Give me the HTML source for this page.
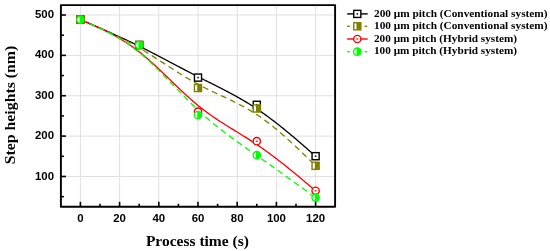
<!DOCTYPE html>
<html><head><meta charset="utf-8"><style>
html,body{margin:0;padding:0;background:#fff;width:550px;height:251px;overflow:hidden}
svg{display:block}
.tl{font-family:"Liberation Sans",Arial,sans-serif;font-weight:bold;font-size:11.4px;fill:#000}
.at{font-family:"Liberation Serif","Times New Roman",serif;font-weight:bold;font-size:14.8px;fill:#000}
.lg{font-family:"Liberation Serif","Times New Roman",serif;font-weight:bold;font-size:11.3px;fill:#000}
</style></head><body>
<svg width="550" height="251" viewBox="0 0 550 251"><rect width="550" height="251" fill="#fff"/><line x1="80.40" y1="5.1" x2="80.40" y2="206.8" stroke="#e0e0e0" stroke-width="1"/><line x1="119.60" y1="5.1" x2="119.60" y2="206.8" stroke="#e0e0e0" stroke-width="1"/><line x1="158.80" y1="5.1" x2="158.80" y2="206.8" stroke="#e0e0e0" stroke-width="1"/><line x1="198.00" y1="5.1" x2="198.00" y2="206.8" stroke="#e0e0e0" stroke-width="1"/><line x1="237.20" y1="5.1" x2="237.20" y2="206.8" stroke="#e0e0e0" stroke-width="1"/><line x1="276.40" y1="5.1" x2="276.40" y2="206.8" stroke="#e0e0e0" stroke-width="1"/><line x1="315.60" y1="5.1" x2="315.60" y2="206.8" stroke="#e0e0e0" stroke-width="1"/><line x1="60.9" y1="176.48" x2="335.1" y2="176.48" stroke="#e0e0e0" stroke-width="1"/><line x1="60.9" y1="136.11" x2="335.1" y2="136.11" stroke="#e0e0e0" stroke-width="1"/><line x1="60.9" y1="95.74" x2="335.1" y2="95.74" stroke="#e0e0e0" stroke-width="1"/><line x1="60.9" y1="55.37" x2="335.1" y2="55.37" stroke="#e0e0e0" stroke-width="1"/><line x1="60.9" y1="15.00" x2="335.1" y2="15.00" stroke="#e0e0e0" stroke-width="1"/><path d="M80.40,19.60 L80.40,19.60 L80.40,19.60 L80.40,19.60 L80.41,19.60 L80.41,19.60 L80.42,19.61 L80.43,19.61 L80.44,19.62 L80.46,19.62 L80.48,19.63 L80.51,19.65 L80.54,19.66 L80.57,19.68 L80.62,19.69 L80.67,19.72 L80.72,19.74 L80.79,19.77 L80.86,19.80 L80.94,19.83 L81.03,19.87 L81.13,19.92 L81.24,19.96 L81.36,20.02 L81.49,20.07 L81.64,20.13 L81.79,20.20 L81.96,20.27 L82.14,20.35 L82.33,20.43 L82.54,20.52 L82.76,20.62 L82.99,20.72 L83.25,20.83 L83.51,20.94 L83.80,21.07 L84.09,21.20 L84.41,21.33 L84.75,21.48 L85.10,21.63 L85.47,21.79 L85.86,21.96 L86.27,22.13 L86.70,22.32 L87.15,22.51 L87.62,22.72 L88.11,22.93 L88.62,23.15 L89.16,23.38 L89.72,23.62 L90.30,23.88 L90.90,24.14 L91.53,24.41 L92.18,24.69 L92.86,24.98 L93.55,25.28 L94.27,25.59 L95.01,25.91 L95.76,26.24 L96.54,26.58 L97.34,26.93 L98.15,27.28 L98.99,27.65 L99.84,28.02 L100.71,28.40 L101.59,28.79 L102.50,29.19 L103.42,29.59 L104.35,30.00 L105.30,30.42 L106.26,30.85 L107.24,31.29 L108.23,31.73 L109.24,32.18 L110.25,32.63 L111.28,33.10 L112.32,33.56 L113.38,34.04 L114.44,34.52 L115.51,35.01 L116.60,35.50 L117.69,36.00 L118.79,36.51 L119.90,37.02 L121.02,37.53 L122.14,38.05 L123.28,38.58 L124.42,39.11 L125.56,39.65 L126.71,40.19 L127.87,40.73 L129.03,41.28 L130.19,41.83 L131.36,42.39 L132.53,42.95 L133.70,43.52 L134.88,44.09 L136.06,44.66 L137.23,45.23 L138.41,45.81 L139.59,46.39 L140.77,46.98 L141.95,47.57 L143.13,48.16 L144.31,48.75 L145.49,49.34 L146.67,49.94 L147.85,50.54 L149.03,51.14 L150.21,51.74 L151.39,52.35 L152.57,52.96 L153.75,53.57 L154.93,54.18 L156.11,54.79 L157.29,55.40 L158.47,56.02 L159.65,56.63 L160.83,57.25 L162.01,57.87 L163.19,58.49 L164.37,59.11 L165.55,59.73 L166.73,60.35 L167.91,60.97 L169.09,61.60 L170.27,62.22 L171.45,62.84 L172.63,63.47 L173.81,64.09 L174.99,64.71 L176.17,65.34 L177.35,65.96 L178.53,66.58 L179.71,67.20 L180.89,67.82 L182.07,68.44 L183.25,69.06 L184.43,69.68 L185.61,70.30 L186.79,70.92 L187.97,71.53 L189.15,72.15 L190.33,72.76 L191.51,73.37 L192.69,73.98 L193.87,74.59 L195.05,75.19 L196.23,75.80 L197.41,76.40 L198.59,77.00 L199.77,77.60 L200.95,78.19 L202.13,78.79 L203.31,79.38 L204.49,79.97 L205.67,80.57 L206.85,81.16 L208.03,81.75 L209.21,82.34 L210.39,82.93 L211.57,83.52 L212.75,84.11 L213.93,84.70 L215.11,85.29 L216.29,85.89 L217.47,86.48 L218.65,87.08 L219.83,87.68 L221.01,88.28 L222.19,88.89 L223.37,89.49 L224.55,90.10 L225.73,90.72 L226.91,91.33 L228.09,91.95 L229.27,92.58 L230.45,93.21 L231.63,93.84 L232.81,94.48 L233.99,95.12 L235.17,95.77 L236.35,96.42 L237.53,97.08 L238.71,97.74 L239.89,98.41 L241.07,99.09 L242.25,99.77 L243.43,100.46 L244.61,101.16 L245.79,101.86 L246.97,102.58 L248.15,103.30 L249.33,104.02 L250.51,104.76 L251.69,105.50 L252.87,106.26 L254.05,107.02 L255.23,107.79 L256.41,108.57 L257.59,109.36 L258.77,110.16 L259.94,110.97 L261.12,111.79 L262.30,112.61 L263.47,113.44 L264.64,114.28 L265.81,115.12 L266.97,115.97 L268.13,116.82 L269.29,117.68 L270.44,118.54 L271.58,119.40 L272.72,120.26 L273.86,121.13 L274.98,121.99 L276.10,122.86 L277.21,123.73 L278.31,124.59 L279.40,125.45 L280.49,126.31 L281.56,127.17 L282.62,128.03 L283.68,128.88 L284.72,129.72 L285.75,130.56 L286.76,131.40 L287.77,132.23 L288.76,133.05 L289.74,133.86 L290.70,134.66 L291.65,135.46 L292.58,136.25 L293.50,137.02 L294.41,137.79 L295.29,138.54 L296.16,139.28 L297.01,140.01 L297.85,140.73 L298.66,141.43 L299.46,142.11 L300.24,142.79 L300.99,143.44 L301.73,144.08 L302.45,144.71 L303.14,145.31 L303.82,145.90 L304.47,146.47 L305.10,147.02 L305.70,147.55 L306.28,148.06 L306.84,148.54 L307.38,149.01 L307.89,149.46 L308.38,149.89 L308.85,150.30 L309.30,150.70 L309.73,151.07 L310.14,151.43 L310.53,151.77 L310.90,152.09 L311.25,152.40 L311.59,152.69 L311.91,152.97 L312.20,153.23 L312.49,153.48 L312.75,153.71 L313.01,153.93 L313.24,154.14 L313.46,154.33 L313.67,154.51 L313.86,154.68 L314.04,154.84 L314.21,154.98 L314.36,155.12 L314.51,155.24 L314.64,155.36 L314.76,155.46 L314.87,155.56 L314.97,155.65 L315.06,155.73 L315.14,155.80 L315.21,155.86 L315.28,155.92 L315.33,155.97 L315.38,156.01 L315.43,156.05 L315.46,156.08 L315.49,156.11 L315.52,156.13 L315.54,156.15 L315.56,156.16 L315.57,156.18 L315.58,156.19 L315.59,156.19 L315.59,156.20 L315.60,156.20 L315.60,156.20 L315.60,156.20 L315.60,156.20" fill="none" stroke="#000000" stroke-width="1.3"/><path d="M80.40,19.60 L80.40,19.60 L80.40,19.60 L80.40,19.60 L80.41,19.60 L80.41,19.60 L80.42,19.61 L80.43,19.61 L80.44,19.62 L80.46,19.62 L80.48,19.63 L80.51,19.65 L80.54,19.66 L80.57,19.68 L80.62,19.69 L80.67,19.72 L80.72,19.74 L80.79,19.77 L80.86,19.80 L80.94,19.83 L81.03,19.87 L81.13,19.92 L81.24,19.96 L81.36,20.02 L81.49,20.07 L81.64,20.13 L81.79,20.20 L81.96,20.27 L82.14,20.35 L82.33,20.43 L82.54,20.52 L82.76,20.62 L82.99,20.72 L83.25,20.83 L83.51,20.94 L83.80,21.07 L84.09,21.20 L84.41,21.33 L84.75,21.48 L85.10,21.63 L85.47,21.79 L85.86,21.96 L86.27,22.13 L86.70,22.32 L87.15,22.51 L87.62,22.72 L88.11,22.93 L88.62,23.15 L89.16,23.38 L89.72,23.62 L90.30,23.88 L90.90,24.14 L91.53,24.41 L92.18,24.69 L92.86,24.98 L93.55,25.29 L94.27,25.60 L95.01,25.92 L95.76,26.25 L96.54,26.59 L97.34,26.94 L98.15,27.30 L98.99,27.67 L99.84,28.05 L100.71,28.44 L101.59,28.84 L102.50,29.25 L103.42,29.66 L104.35,30.09 L105.30,30.52 L106.26,30.97 L107.24,31.42 L108.23,31.88 L109.24,32.35 L110.25,32.83 L111.28,33.32 L112.32,33.82 L113.38,34.32 L114.44,34.83 L115.51,35.36 L116.60,35.89 L117.69,36.43 L118.79,36.97 L119.90,37.53 L121.02,38.09 L122.14,38.66 L123.28,39.24 L124.42,39.83 L125.56,40.43 L126.71,41.03 L127.87,41.64 L129.03,42.26 L130.19,42.88 L131.36,43.52 L132.53,44.16 L133.70,44.81 L134.88,45.47 L136.06,46.13 L137.23,46.80 L138.41,47.48 L139.59,48.16 L140.77,48.85 L141.95,49.55 L143.13,50.26 L144.31,50.97 L145.49,51.69 L146.67,52.41 L147.85,53.14 L149.03,53.87 L150.21,54.60 L151.39,55.34 L152.57,56.09 L153.75,56.84 L154.93,57.59 L156.11,58.34 L157.29,59.09 L158.47,59.85 L159.65,60.61 L160.83,61.37 L162.01,62.14 L163.19,62.90 L164.37,63.66 L165.55,64.43 L166.73,65.19 L167.91,65.95 L169.09,66.72 L170.27,67.48 L171.45,68.24 L172.63,68.99 L173.81,69.75 L174.99,70.50 L176.17,71.25 L177.35,72.00 L178.53,72.75 L179.71,73.49 L180.89,74.22 L182.07,74.96 L183.25,75.68 L184.43,76.41 L185.61,77.12 L186.79,77.83 L187.97,78.54 L189.15,79.24 L190.33,79.93 L191.51,80.62 L192.69,81.30 L193.87,81.97 L195.05,82.63 L196.23,83.28 L197.41,83.93 L198.59,84.57 L199.77,85.20 L200.95,85.82 L202.13,86.43 L203.31,87.03 L204.49,87.63 L205.67,88.22 L206.85,88.81 L208.03,89.39 L209.21,89.96 L210.39,90.53 L211.57,91.10 L212.75,91.66 L213.93,92.22 L215.11,92.78 L216.29,93.33 L217.47,93.89 L218.65,94.44 L219.83,94.99 L221.01,95.54 L222.19,96.10 L223.37,96.65 L224.55,97.20 L225.73,97.76 L226.91,98.31 L228.09,98.88 L229.27,99.44 L230.45,100.01 L231.63,100.58 L232.81,101.15 L233.99,101.73 L235.17,102.32 L236.35,102.91 L237.53,103.51 L238.71,104.12 L239.89,104.73 L241.07,105.35 L242.25,105.98 L243.43,106.62 L244.61,107.27 L245.79,107.93 L246.97,108.60 L248.15,109.28 L249.33,109.97 L250.51,110.67 L251.69,111.38 L252.87,112.11 L254.05,112.85 L255.23,113.61 L256.41,114.37 L257.59,115.16 L258.77,115.95 L259.94,116.77 L261.12,117.59 L262.30,118.42 L263.47,119.27 L264.64,120.13 L265.81,121.00 L266.97,121.87 L268.13,122.76 L269.29,123.65 L270.44,124.55 L271.58,125.45 L272.72,126.36 L273.86,127.28 L274.98,128.19 L276.10,129.11 L277.21,130.04 L278.31,130.96 L279.40,131.89 L280.49,132.81 L281.56,133.74 L282.62,134.66 L283.68,135.58 L284.72,136.49 L285.75,137.41 L286.76,138.32 L287.77,139.22 L288.76,140.11 L289.74,141.00 L290.70,141.88 L291.65,142.76 L292.58,143.62 L293.50,144.48 L294.41,145.32 L295.29,146.15 L296.16,146.97 L297.01,147.78 L297.85,148.57 L298.66,149.35 L299.46,150.11 L300.24,150.85 L300.99,151.58 L301.73,152.30 L302.45,152.99 L303.14,153.66 L303.82,154.32 L304.47,154.95 L305.10,155.56 L305.70,156.15 L306.28,156.72 L306.84,157.27 L307.38,157.79 L307.89,158.29 L308.38,158.77 L308.85,159.23 L309.30,159.66 L309.73,160.08 L310.14,160.48 L310.53,160.86 L310.90,161.22 L311.25,161.57 L311.59,161.89 L311.91,162.20 L312.20,162.49 L312.49,162.77 L312.75,163.03 L313.01,163.27 L313.24,163.50 L313.46,163.72 L313.67,163.92 L313.86,164.11 L314.04,164.28 L314.21,164.44 L314.36,164.59 L314.51,164.73 L314.64,164.86 L314.76,164.98 L314.87,165.09 L314.97,165.18 L315.06,165.27 L315.14,165.35 L315.21,165.42 L315.28,165.48 L315.33,165.54 L315.38,165.59 L315.43,165.63 L315.46,165.67 L315.49,165.70 L315.52,165.72 L315.54,165.74 L315.56,165.76 L315.57,165.77 L315.58,165.78 L315.59,165.79 L315.59,165.80 L315.60,165.80 L315.60,165.80 L315.60,165.80 L315.60,165.80" fill="none" stroke="#808000" stroke-width="1.3" stroke-dasharray="6,4"/><path d="M80.40,19.60 L80.40,19.60 L80.40,19.60 L80.40,19.60 L80.41,19.60 L80.41,19.60 L80.42,19.61 L80.43,19.61 L80.44,19.62 L80.46,19.62 L80.48,19.63 L80.51,19.65 L80.54,19.66 L80.57,19.68 L80.62,19.69 L80.67,19.72 L80.72,19.74 L80.79,19.77 L80.86,19.80 L80.94,19.83 L81.03,19.87 L81.13,19.92 L81.24,19.96 L81.36,20.02 L81.49,20.07 L81.64,20.13 L81.79,20.20 L81.96,20.27 L82.14,20.35 L82.33,20.43 L82.54,20.52 L82.76,20.62 L82.99,20.72 L83.25,20.83 L83.51,20.94 L83.80,21.07 L84.09,21.20 L84.41,21.33 L84.75,21.48 L85.10,21.63 L85.47,21.79 L85.86,21.96 L86.27,22.13 L86.70,22.32 L87.15,22.51 L87.62,22.72 L88.11,22.93 L88.62,23.15 L89.16,23.38 L89.72,23.62 L90.30,23.88 L90.90,24.14 L91.53,24.41 L92.18,24.69 L92.86,24.99 L93.55,25.29 L94.27,25.60 L95.01,25.93 L95.76,26.27 L96.54,26.62 L97.34,26.98 L98.15,27.35 L98.99,27.73 L99.84,28.12 L100.71,28.53 L101.59,28.95 L102.50,29.38 L103.42,29.82 L104.35,30.28 L105.30,30.75 L106.26,31.23 L107.24,31.72 L108.23,32.23 L109.24,32.75 L110.25,33.28 L111.28,33.83 L112.32,34.38 L113.38,34.96 L114.44,35.54 L115.51,36.14 L116.60,36.76 L117.69,37.39 L118.79,38.03 L119.90,38.69 L121.02,39.36 L122.14,40.05 L123.28,40.75 L124.42,41.46 L125.56,42.19 L126.71,42.94 L127.87,43.70 L129.03,44.48 L130.19,45.27 L131.36,46.08 L132.53,46.90 L133.70,47.74 L134.88,48.59 L136.06,49.46 L137.23,50.35 L138.41,51.25 L139.59,52.18 L140.77,53.11 L141.95,54.06 L143.13,55.03 L144.31,56.01 L145.49,57.01 L146.67,58.02 L147.85,59.04 L149.03,60.07 L150.21,61.12 L151.39,62.17 L152.57,63.24 L153.75,64.32 L154.93,65.40 L156.11,66.49 L157.29,67.59 L158.47,68.70 L159.65,69.81 L160.83,70.93 L162.01,72.05 L163.19,73.18 L164.37,74.31 L165.55,75.45 L166.73,76.58 L167.91,77.72 L169.09,78.86 L170.27,80.00 L171.45,81.14 L172.63,82.28 L173.81,83.42 L174.99,84.56 L176.17,85.69 L177.35,86.83 L178.53,87.95 L179.71,89.07 L180.89,90.19 L182.07,91.30 L183.25,92.41 L184.43,93.51 L185.61,94.60 L186.79,95.68 L187.97,96.76 L189.15,97.82 L190.33,98.87 L191.51,99.92 L192.69,100.95 L193.87,101.97 L195.05,102.98 L196.23,103.97 L197.41,104.95 L198.59,105.91 L199.77,106.86 L200.95,107.80 L202.13,108.72 L203.31,109.63 L204.49,110.53 L205.67,111.41 L206.85,112.29 L208.03,113.15 L209.21,114.00 L210.39,114.84 L211.57,115.66 L212.75,116.48 L213.93,117.29 L215.11,118.10 L216.29,118.89 L217.47,119.68 L218.65,120.45 L219.83,121.23 L221.01,121.99 L222.19,122.75 L223.37,123.50 L224.55,124.25 L225.73,125.00 L226.91,125.74 L228.09,126.48 L229.27,127.21 L230.45,127.94 L231.63,128.67 L232.81,129.39 L233.99,130.12 L235.17,130.85 L236.35,131.57 L237.53,132.29 L238.71,133.02 L239.89,133.74 L241.07,134.47 L242.25,135.20 L243.43,135.93 L244.61,136.67 L245.79,137.40 L246.97,138.15 L248.15,138.89 L249.33,139.64 L250.51,140.40 L251.69,141.16 L252.87,141.93 L254.05,142.70 L255.23,143.48 L256.41,144.27 L257.59,145.06 L258.77,145.87 L259.94,146.68 L261.12,147.50 L262.30,148.32 L263.47,149.15 L264.64,149.98 L265.81,150.82 L266.97,151.66 L268.13,152.51 L269.29,153.35 L270.44,154.20 L271.58,155.05 L272.72,155.91 L273.86,156.76 L274.98,157.61 L276.10,158.46 L277.21,159.31 L278.31,160.16 L279.40,161.01 L280.49,161.85 L281.56,162.69 L282.62,163.52 L283.68,164.35 L284.72,165.18 L285.75,166.00 L286.76,166.81 L287.77,167.62 L288.76,168.41 L289.74,169.20 L290.70,169.99 L291.65,170.76 L292.58,171.52 L293.50,172.27 L294.41,173.02 L295.29,173.75 L296.16,174.46 L297.01,175.17 L297.85,175.86 L298.66,176.54 L299.46,177.20 L300.24,177.85 L300.99,178.49 L301.73,179.11 L302.45,179.71 L303.14,180.29 L303.82,180.86 L304.47,181.41 L305.10,181.94 L305.70,182.45 L306.28,182.94 L306.84,183.41 L307.38,183.86 L307.89,184.30 L308.38,184.71 L308.85,185.11 L309.30,185.49 L309.73,185.85 L310.14,186.20 L310.53,186.52 L310.90,186.84 L311.25,187.13 L311.59,187.42 L311.91,187.68 L312.20,187.94 L312.49,188.17 L312.75,188.40 L313.01,188.61 L313.24,188.81 L313.46,189.00 L313.67,189.17 L313.86,189.33 L314.04,189.49 L314.21,189.63 L314.36,189.76 L314.51,189.88 L314.64,189.99 L314.76,190.09 L314.87,190.18 L314.97,190.27 L315.06,190.34 L315.14,190.41 L315.21,190.47 L315.28,190.53 L315.33,190.57 L315.38,190.62 L315.43,190.65 L315.46,190.68 L315.49,190.71 L315.52,190.73 L315.54,190.75 L315.56,190.77 L315.57,190.78 L315.58,190.79 L315.59,190.79 L315.59,190.80 L315.60,190.80 L315.60,190.80 L315.60,190.80 L315.60,190.80" fill="none" stroke="#ff0000" stroke-width="1.3"/><path d="M80.40,19.60 L80.40,19.60 L80.40,19.60 L80.40,19.60 L80.41,19.60 L80.41,19.60 L80.42,19.61 L80.43,19.61 L80.44,19.62 L80.46,19.62 L80.48,19.63 L80.51,19.65 L80.54,19.66 L80.57,19.68 L80.62,19.69 L80.67,19.72 L80.72,19.74 L80.79,19.77 L80.86,19.80 L80.94,19.83 L81.03,19.87 L81.13,19.92 L81.24,19.96 L81.36,20.02 L81.49,20.07 L81.64,20.13 L81.79,20.20 L81.96,20.27 L82.14,20.35 L82.33,20.43 L82.54,20.52 L82.76,20.62 L82.99,20.72 L83.25,20.83 L83.51,20.94 L83.80,21.07 L84.09,21.20 L84.41,21.33 L84.75,21.48 L85.10,21.63 L85.47,21.79 L85.86,21.96 L86.27,22.13 L86.70,22.32 L87.15,22.51 L87.62,22.72 L88.11,22.93 L88.62,23.15 L89.16,23.38 L89.72,23.62 L90.30,23.88 L90.90,24.14 L91.53,24.41 L92.18,24.69 L92.86,24.99 L93.55,25.29 L94.27,25.61 L95.01,25.93 L95.76,26.27 L96.54,26.62 L97.34,26.98 L98.15,27.35 L98.99,27.74 L99.84,28.13 L100.71,28.54 L101.59,28.97 L102.50,29.40 L103.42,29.85 L104.35,30.31 L105.30,30.78 L106.26,31.26 L107.24,31.76 L108.23,32.28 L109.24,32.80 L110.25,33.34 L111.28,33.90 L112.32,34.47 L113.38,35.05 L114.44,35.65 L115.51,36.26 L116.60,36.89 L117.69,37.53 L118.79,38.18 L119.90,38.85 L121.02,39.54 L122.14,40.24 L123.28,40.96 L124.42,41.70 L125.56,42.45 L126.71,43.21 L127.87,44.00 L129.03,44.80 L130.19,45.61 L131.36,46.44 L132.53,47.29 L133.70,48.16 L134.88,49.04 L136.06,49.94 L137.23,50.86 L138.41,51.80 L139.59,52.75 L140.77,53.73 L141.95,54.71 L143.13,55.72 L144.31,56.74 L145.49,57.78 L146.67,58.83 L147.85,59.90 L149.03,60.98 L150.21,62.07 L151.39,63.17 L152.57,64.29 L153.75,65.42 L154.93,66.55 L156.11,67.70 L157.29,68.86 L158.47,70.03 L159.65,71.20 L160.83,72.38 L162.01,73.57 L163.19,74.77 L164.37,75.97 L165.55,77.17 L166.73,78.38 L167.91,79.60 L169.09,80.81 L170.27,82.03 L171.45,83.26 L172.63,84.48 L173.81,85.71 L174.99,86.93 L176.17,88.15 L177.35,89.38 L178.53,90.60 L179.71,91.82 L180.89,93.04 L182.07,94.25 L183.25,95.46 L184.43,96.67 L185.61,97.87 L186.79,99.06 L187.97,100.25 L189.15,101.44 L190.33,102.61 L191.51,103.78 L192.69,104.93 L193.87,106.08 L195.05,107.22 L196.23,108.35 L197.41,109.46 L198.59,110.57 L199.77,111.66 L200.95,112.74 L202.13,113.81 L203.31,114.87 L204.49,115.92 L205.67,116.95 L206.85,117.98 L208.03,119.00 L209.21,120.01 L210.39,121.00 L211.57,121.99 L212.75,122.97 L213.93,123.94 L215.11,124.90 L216.29,125.85 L217.47,126.80 L218.65,127.74 L219.83,128.67 L221.01,129.59 L222.19,130.51 L223.37,131.42 L224.55,132.32 L225.73,133.22 L226.91,134.11 L228.09,134.99 L229.27,135.87 L230.45,136.75 L231.63,137.62 L232.81,138.48 L233.99,139.34 L235.17,140.20 L236.35,141.05 L237.53,141.90 L238.71,142.75 L239.89,143.59 L241.07,144.43 L242.25,145.27 L243.43,146.11 L244.61,146.94 L245.79,147.77 L246.97,148.60 L248.15,149.43 L249.33,150.26 L250.51,151.09 L251.69,151.91 L252.87,152.74 L254.05,153.57 L255.23,154.40 L256.41,155.22 L257.59,156.05 L258.77,156.88 L259.94,157.71 L261.12,158.54 L262.30,159.37 L263.47,160.20 L264.64,161.03 L265.81,161.85 L266.97,162.68 L268.13,163.50 L269.29,164.32 L270.44,165.14 L271.58,165.95 L272.72,166.76 L273.86,167.57 L274.98,168.37 L276.10,169.17 L277.21,169.96 L278.31,170.75 L279.40,171.53 L280.49,172.30 L281.56,173.07 L282.62,173.83 L283.68,174.58 L284.72,175.33 L285.75,176.07 L286.76,176.80 L287.77,177.52 L288.76,178.23 L289.74,178.93 L290.70,179.63 L291.65,180.31 L292.58,180.98 L293.50,181.64 L294.41,182.29 L295.29,182.93 L296.16,183.56 L297.01,184.17 L297.85,184.77 L298.66,185.36 L299.46,185.94 L300.24,186.50 L300.99,187.04 L301.73,187.58 L302.45,188.09 L303.14,188.60 L303.82,189.08 L304.47,189.55 L305.10,190.01 L305.70,190.45 L306.28,190.87 L306.84,191.27 L307.38,191.66 L307.89,192.03 L308.38,192.38 L308.85,192.72 L309.30,193.05 L309.73,193.36 L310.14,193.66 L310.53,193.94 L310.90,194.20 L311.25,194.46 L311.59,194.70 L311.91,194.93 L312.20,195.15 L312.49,195.35 L312.75,195.54 L313.01,195.72 L313.24,195.89 L313.46,196.05 L313.67,196.20 L313.86,196.34 L314.04,196.47 L314.21,196.59 L314.36,196.71 L314.51,196.81 L314.64,196.90 L314.76,196.99 L314.87,197.07 L314.97,197.14 L315.06,197.21 L315.14,197.27 L315.21,197.32 L315.28,197.37 L315.33,197.41 L315.38,197.44 L315.43,197.47 L315.46,197.50 L315.49,197.52 L315.52,197.54 L315.54,197.56 L315.56,197.57 L315.57,197.58 L315.58,197.59 L315.59,197.59 L315.59,197.60 L315.60,197.60 L315.60,197.60 L315.60,197.60 L315.60,197.60" fill="none" stroke="#00ff00" stroke-width="1.3" stroke-dasharray="6,4"/><rect x="76.85" y="16.05" width="7.10" height="7.10" fill="#fff" stroke="#000000" stroke-width="1.4"/><rect x="79.65" y="18.85" width="1.5" height="1.5" fill="#000000"/><rect x="135.65" y="41.45" width="7.10" height="7.10" fill="#fff" stroke="#000000" stroke-width="1.4"/><rect x="138.45" y="44.25" width="1.5" height="1.5" fill="#000000"/><rect x="194.45" y="74.05" width="7.10" height="7.10" fill="#fff" stroke="#000000" stroke-width="1.4"/><rect x="197.25" y="76.85" width="1.5" height="1.5" fill="#000000"/><rect x="253.25" y="101.25" width="7.10" height="7.10" fill="#fff" stroke="#000000" stroke-width="1.4"/><rect x="256.05" y="104.05" width="1.5" height="1.5" fill="#000000"/><rect x="312.05" y="152.65" width="7.10" height="7.10" fill="#fff" stroke="#000000" stroke-width="1.4"/><rect x="314.85" y="155.45" width="1.5" height="1.5" fill="#000000"/><rect x="76.85" y="16.05" width="7.10" height="7.10" fill="#fff" stroke="#808000" stroke-width="1.4"/><rect x="79.60" y="16.05" width="4.35" height="7.10" fill="#808000"/><rect x="135.65" y="41.45" width="7.10" height="7.10" fill="#fff" stroke="#808000" stroke-width="1.4"/><rect x="138.40" y="41.45" width="4.35" height="7.10" fill="#808000"/><rect x="194.45" y="84.45" width="7.10" height="7.10" fill="#fff" stroke="#808000" stroke-width="1.4"/><rect x="197.20" y="84.45" width="4.35" height="7.10" fill="#808000"/><rect x="253.25" y="104.95" width="7.10" height="7.10" fill="#fff" stroke="#808000" stroke-width="1.4"/><rect x="256.00" y="104.95" width="4.35" height="7.10" fill="#808000"/><rect x="312.05" y="162.25" width="7.10" height="7.10" fill="#fff" stroke="#808000" stroke-width="1.4"/><rect x="314.80" y="162.25" width="4.35" height="7.10" fill="#808000"/><circle cx="80.40" cy="19.60" r="3.65" fill="#fff" stroke="#ff0000" stroke-width="1.4"/><rect x="79.40" y="19.00" width="2" height="1.2" fill="#ff0000"/><circle cx="139.20" cy="45.00" r="3.65" fill="#fff" stroke="#ff0000" stroke-width="1.4"/><rect x="138.20" y="44.40" width="2" height="1.2" fill="#ff0000"/><circle cx="198.00" cy="111.60" r="3.65" fill="#fff" stroke="#ff0000" stroke-width="1.4"/><rect x="197.00" y="111.00" width="2" height="1.2" fill="#ff0000"/><circle cx="256.80" cy="141.20" r="3.65" fill="#fff" stroke="#ff0000" stroke-width="1.4"/><rect x="255.80" y="140.60" width="2" height="1.2" fill="#ff0000"/><circle cx="315.60" cy="190.80" r="3.65" fill="#fff" stroke="#ff0000" stroke-width="1.4"/><rect x="314.60" y="190.20" width="2" height="1.2" fill="#ff0000"/><circle cx="80.40" cy="19.60" r="3.65" fill="#fff" stroke="#00ff00" stroke-width="1.4"/><path d="M79.60,16.04 A3.65,3.65 0 1 1 79.60,23.16 Z" fill="#00ff00"/><circle cx="139.20" cy="45.00" r="3.65" fill="#fff" stroke="#00ff00" stroke-width="1.4"/><path d="M138.40,41.44 A3.65,3.65 0 1 1 138.40,48.56 Z" fill="#00ff00"/><circle cx="198.00" cy="115.00" r="3.65" fill="#fff" stroke="#00ff00" stroke-width="1.4"/><path d="M197.20,111.44 A3.65,3.65 0 1 1 197.20,118.56 Z" fill="#00ff00"/><circle cx="256.80" cy="155.10" r="3.65" fill="#fff" stroke="#00ff00" stroke-width="1.4"/><path d="M256.00,151.54 A3.65,3.65 0 1 1 256.00,158.66 Z" fill="#00ff00"/><circle cx="315.60" cy="197.60" r="3.65" fill="#fff" stroke="#00ff00" stroke-width="1.4"/><path d="M314.80,194.04 A3.65,3.65 0 1 1 314.80,201.16 Z" fill="#00ff00"/><rect x="60.9" y="5.1" width="274.20" height="201.70" fill="none" stroke="#000" stroke-width="1.9" stroke-linejoin="round"/><line x1="80.40" y1="206.8" x2="80.40" y2="201.8" stroke="#000" stroke-width="1.6"/><line x1="119.60" y1="206.8" x2="119.60" y2="201.8" stroke="#000" stroke-width="1.6"/><line x1="158.80" y1="206.8" x2="158.80" y2="201.8" stroke="#000" stroke-width="1.6"/><line x1="198.00" y1="206.8" x2="198.00" y2="201.8" stroke="#000" stroke-width="1.6"/><line x1="237.20" y1="206.8" x2="237.20" y2="201.8" stroke="#000" stroke-width="1.6"/><line x1="276.40" y1="206.8" x2="276.40" y2="201.8" stroke="#000" stroke-width="1.6"/><line x1="315.60" y1="206.8" x2="315.60" y2="201.8" stroke="#000" stroke-width="1.6"/><line x1="100.00" y1="206.8" x2="100.00" y2="203.8" stroke="#000" stroke-width="1.6"/><line x1="139.20" y1="206.8" x2="139.20" y2="203.8" stroke="#000" stroke-width="1.6"/><line x1="178.40" y1="206.8" x2="178.40" y2="203.8" stroke="#000" stroke-width="1.6"/><line x1="217.60" y1="206.8" x2="217.60" y2="203.8" stroke="#000" stroke-width="1.6"/><line x1="256.80" y1="206.8" x2="256.80" y2="203.8" stroke="#000" stroke-width="1.6"/><line x1="296.00" y1="206.8" x2="296.00" y2="203.8" stroke="#000" stroke-width="1.6"/><line x1="60.9" y1="176.48" x2="65.9" y2="176.48" stroke="#000" stroke-width="1.6"/><line x1="60.9" y1="136.11" x2="65.9" y2="136.11" stroke="#000" stroke-width="1.6"/><line x1="60.9" y1="95.74" x2="65.9" y2="95.74" stroke="#000" stroke-width="1.6"/><line x1="60.9" y1="55.37" x2="65.9" y2="55.37" stroke="#000" stroke-width="1.6"/><line x1="60.9" y1="15.00" x2="65.9" y2="15.00" stroke="#000" stroke-width="1.6"/><line x1="60.9" y1="196.66" x2="63.9" y2="196.66" stroke="#000" stroke-width="1.6"/><line x1="60.9" y1="156.29" x2="63.9" y2="156.29" stroke="#000" stroke-width="1.6"/><line x1="60.9" y1="115.92" x2="63.9" y2="115.92" stroke="#000" stroke-width="1.6"/><line x1="60.9" y1="75.56" x2="63.9" y2="75.56" stroke="#000" stroke-width="1.6"/><line x1="60.9" y1="35.19" x2="63.9" y2="35.19" stroke="#000" stroke-width="1.6"/><text x="80.40" y="222" text-anchor="middle" class="tl">0</text><text x="119.60" y="222" text-anchor="middle" class="tl">20</text><text x="158.80" y="222" text-anchor="middle" class="tl">40</text><text x="198.00" y="222" text-anchor="middle" class="tl">60</text><text x="237.20" y="222" text-anchor="middle" class="tl">80</text><text x="276.40" y="222" text-anchor="middle" class="tl">100</text><text x="315.60" y="222" text-anchor="middle" class="tl">120</text><text x="54" y="179.58" text-anchor="end" class="tl">100</text><text x="54" y="139.21" text-anchor="end" class="tl">200</text><text x="54" y="98.84" text-anchor="end" class="tl">300</text><text x="54" y="58.47" text-anchor="end" class="tl">400</text><text x="54" y="18.10" text-anchor="end" class="tl">500</text><text x="197.4" y="246" text-anchor="middle" class="at" textLength="103" lengthAdjust="spacingAndGlyphs">Process time (s)</text><text transform="translate(15.2,105) rotate(-90)" text-anchor="middle" class="at" textLength="118.5" lengthAdjust="spacingAndGlyphs">Step heights (nm)</text><line x1="347.2" y1="13.90" x2="367.7" y2="13.90" stroke="#000000" stroke-width="1.4"/><rect x="353.75" y="10.35" width="7.10" height="7.10" fill="#fff" stroke="#000000" stroke-width="1.4"/><rect x="356.55" y="13.15" width="1.5" height="1.5" fill="#000000"/><text x="374" y="17.1" class="lg" textLength="173.5" lengthAdjust="spacingAndGlyphs">200 μm pitch (Conventional system)</text><line x1="347.2" y1="26.30" x2="349.8" y2="26.30" stroke="#808000" stroke-width="1.4"/><line x1="364.6" y1="26.30" x2="367.2" y2="26.30" stroke="#808000" stroke-width="1.4"/><rect x="353.75" y="22.75" width="7.10" height="7.10" fill="#fff" stroke="#808000" stroke-width="1.4"/><rect x="356.50" y="22.75" width="4.35" height="7.10" fill="#808000"/><text x="374" y="29.3" class="lg" textLength="173.5" lengthAdjust="spacingAndGlyphs">100 μm pitch (Conventional system)</text><line x1="347.2" y1="39.00" x2="367.7" y2="39.00" stroke="#ff0000" stroke-width="1.4"/><circle cx="357.30" cy="39.00" r="3.65" fill="#fff" stroke="#ff0000" stroke-width="1.4"/><rect x="356.30" y="38.40" width="2" height="1.2" fill="#ff0000"/><text x="374" y="41.6" class="lg" textLength="143" lengthAdjust="spacingAndGlyphs">200 μm pitch (Hybrid system)</text><line x1="347.2" y1="51.70" x2="349.8" y2="51.70" stroke="#00ff00" stroke-width="1.4"/><line x1="364.6" y1="51.70" x2="367.2" y2="51.70" stroke="#00ff00" stroke-width="1.4"/><circle cx="357.30" cy="51.70" r="3.65" fill="#fff" stroke="#00ff00" stroke-width="1.4"/><path d="M356.50,48.14 A3.65,3.65 0 1 1 356.50,55.26 Z" fill="#00ff00"/><text x="374" y="53.9" class="lg" textLength="143" lengthAdjust="spacingAndGlyphs">100 μm pitch (Hybrid system)</text></svg>
</body></html>
